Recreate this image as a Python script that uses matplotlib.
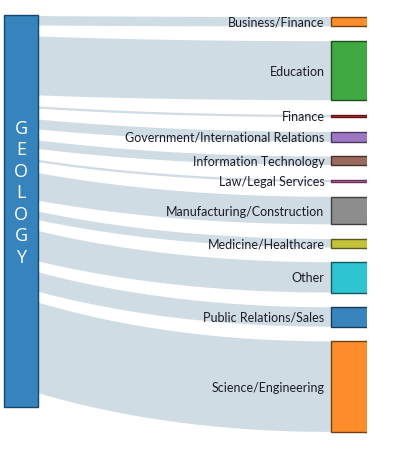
import numpy as np
import matplotlib
matplotlib.use('Agg')
import matplotlib.pyplot as plt
from matplotlib.patches import Rectangle, Polygon
from matplotlib.colors import to_rgb

# data (graduates per career field, approx.)
source = "GEOLOGY"
fields = ["Business/Finance", "Education", "Finance", "Government/International Relations",
          "Information Technology", "Law/Legal Services", "Manufacturing/Construction",
          "Medicine/Healthcare", "Other", "Public Relations/Sales", "Science/Engineering"]
counts = [4.0, 24.9, 0.95, 4.2, 3.6, 1.0, 11.6, 3.6, 12.8, 8.2, 38.2]
colors = ["#fd8d2a", "#41a941", "#d0302e", "#9e77c4", "#9a6a5d", "#d86ab8",
          "#8d8d8d", "#c4c23a", "#2fc4d2", "#3a84bd", "#fd8d2a"]

W, H = 395, 452
fig = plt.figure(figsize=(W / 100, H / 100), dpi=100)
ax = fig.add_axes([0, 0, 367 / W, 1])
ax.set_xlim(0, 367)
ax.set_ylim(H, 0)
ax.axis('off')

k = 2.37          # px per unit
left_x0, left_x1 = 4, 37.5
right_x0, right_x1 = 331, 380
pad_left, pad_right = 10.9, 14.7
link_col = '#d0dce4'


def darker(c, f=0.45):
    r, g, b = to_rgb(c)
    return (r * f, g * f, b * f)


def qcurve(xa, ya, xb, yb, n=60):
    cx = xa + 0.45 * (xb - xa)
    t = np.linspace(0, 1, n)
    x = (1 - t) ** 2 * xa + 2 * t * (1 - t) * cx + t ** 2 * xb
    y = (1 - t) ** 2 * ya + 2 * t * (1 - t) * yb + t ** 2 * yb
    return x, y


yl = 17.0
yr = 18.0
for name, v, c in zip(fields, counts, colors):
    h = v * k
    # link
    xt, yt = qcurve(left_x1, yl, right_x0, yr)
    xb, yb = qcurve(left_x1, yl + h, right_x0, yr + h)
    pts = np.concatenate([np.column_stack([xt, yt]), np.column_stack([xb, yb])[::-1]])
    ax.add_patch(Polygon(pts, closed=True, facecolor=link_col, edgecolor='none', zorder=1))
    # target node
    ax.add_patch(Rectangle((right_x0, yr), right_x1 - right_x0, h, facecolor=c,
                           edgecolor=darker(c), linewidth=1, zorder=3))
    ax.text(324.5, yr + h / 2, name, ha='right', va='center', fontsize=9,
            family='Lato', color='#1c1c28', zorder=4)
    yl += h + pad_left
    yr += h + pad_right

# source node
ax.add_patch(Rectangle((left_x0, 16), left_x1 - left_x0, 392, facecolor='#3683bd',
                       edgecolor='#17466e', linewidth=1, zorder=3))
for i, ch in enumerate(source):
    ax.text((left_x0 + left_x1) / 2 + 0.5, 129 + i * 21.5, ch, ha='center', va='center',
            fontsize=13, family='Open Sans', color='white', zorder=4)

fig.savefig('out.png', dpi=100)
